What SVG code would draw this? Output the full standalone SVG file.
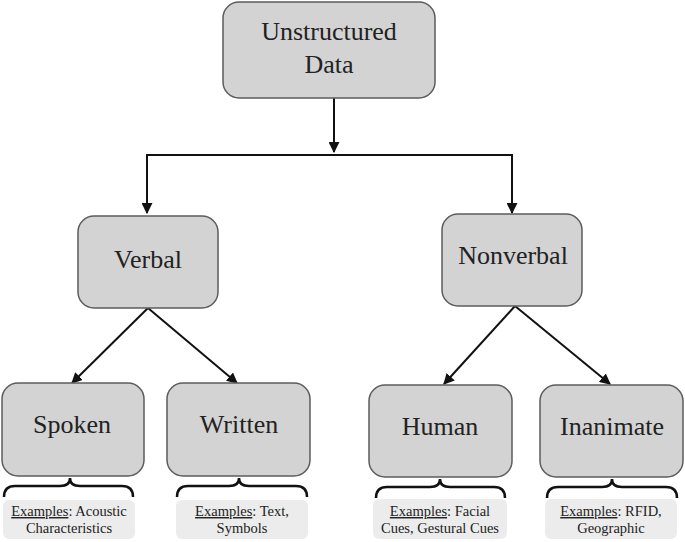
<svg xmlns="http://www.w3.org/2000/svg" width="685" height="542" viewBox="0 0 685 542">
<style>
.node{fill:#d3d3d3;stroke:#5c5c5c;stroke-width:1.5}
.ex{fill:#ececec;stroke:none}
.t{font-family:'Liberation Serif',serif;font-size:26px;fill:#222;text-anchor:middle}
.s{font-family:'Liberation Serif',serif;font-size:14.5px;fill:#222;text-anchor:middle}
.c{fill:none;stroke:#111;stroke-width:2}
.b{fill:none;stroke:#111;stroke-width:2.5}
</style>
<defs>
<marker id="ah" viewBox="0 0 10 10" refX="9" refY="5" markerWidth="5.5" markerHeight="5.5" orient="auto">
<path d="M0,0 L10,5 L0,10 z" fill="#111"/>
</marker>
</defs>
<rect width="685" height="542" fill="#fff"/>
<g id="connectors">
<path class="c" d="M334,98 V152" marker-end="url(#ah)"/>
<path class="c" d="M147,213 V155 H512 V213"/>
<path class="c" d="M147,200 V213" marker-end="url(#ah)"/>
<path class="c" d="M512,200 V213" marker-end="url(#ah)"/>
<path class="c" d="M148,308 L72,383" marker-end="url(#ah)"/>
<path class="c" d="M148,308 L237,383" marker-end="url(#ah)"/>
<path class="c" d="M515,306 L444,384" marker-end="url(#ah)"/>
<path class="c" d="M515,306 L610,384" marker-end="url(#ah)"/>
</g>
<g id="unstructured">
<rect class="node" x="223" y="2" width="212" height="96" rx="16"/>
<text class="t" x="329" y="40">Unstructured</text>
<text class="t" x="329" y="73">Data</text>
</g>
<g id="verbal">
<rect class="node" x="78" y="216" width="140" height="92" rx="16"/>
<text class="t" x="148" y="268">Verbal</text>
</g>
<g id="nonverbal">
<rect class="node" x="442" y="214" width="140" height="92" rx="16"/>
<text class="t" x="513" y="264">Nonverbal</text>
</g>
<g id="spoken">
<rect class="node" x="2" y="383" width="142" height="93" rx="16"/>
<text class="t" x="72" y="433">Spoken</text>
<path class="b" d="M4,497 Q4,486 15,486 H60 Q70,486 70,478 Q70,486 80,486 H122 Q133,486 133,497"/>
<rect class="ex" x="3" y="500" width="132" height="39" rx="6"/>
<text class="s" x="69" y="516"><tspan text-decoration="underline">Examples</tspan>: Acoustic</text>
<text class="s" x="69" y="533">Characteristics</text>
</g>
<g id="written">
<rect class="node" x="167" y="383" width="143" height="93" rx="16"/>
<text class="t" x="239" y="433">Written</text>
<path class="b" d="M177,497 Q177,486 188,486 H229 Q239,486 239,478 Q239,486 249,486 H296 Q307,486 307,497"/>
<rect class="ex" x="176" y="500" width="132" height="39" rx="6"/>
<text class="s" x="242" y="516"><tspan text-decoration="underline">Examples</tspan>: Text,</text>
<text class="s" x="242" y="533">Symbols</text>
</g>
<g id="human">
<rect class="node" x="369" y="385" width="143" height="92" rx="16"/>
<text class="t" x="440" y="435">Human</text>
<path class="b" d="M376,498 Q376,487 387,487 H430 Q440,487 440,479 Q440,487 450,487 H494 Q505,487 505,498"/>
<rect class="ex" x="373" y="499" width="134" height="40" rx="6"/>
<text class="s" x="440" y="516"><tspan text-decoration="underline">Examples</tspan>: Facial</text>
<text class="s" x="440" y="533">Cues, Gestural Cues</text>
</g>
<g id="inanimate">
<rect class="node" x="540" y="385" width="143" height="92" rx="16"/>
<text class="t" x="612" y="435">Inanimate</text>
<path class="b" d="M547,498 Q547,487 558,487 H602 Q612,487 612,479 Q612,487 622,487 H666 Q677,487 677,498"/>
<rect class="ex" x="545" y="499" width="132" height="40" rx="6"/>
<text class="s" x="611" y="516"><tspan text-decoration="underline">Examples</tspan>: RFID,</text>
<text class="s" x="611" y="533">Geographic</text>
</g>
</svg>
